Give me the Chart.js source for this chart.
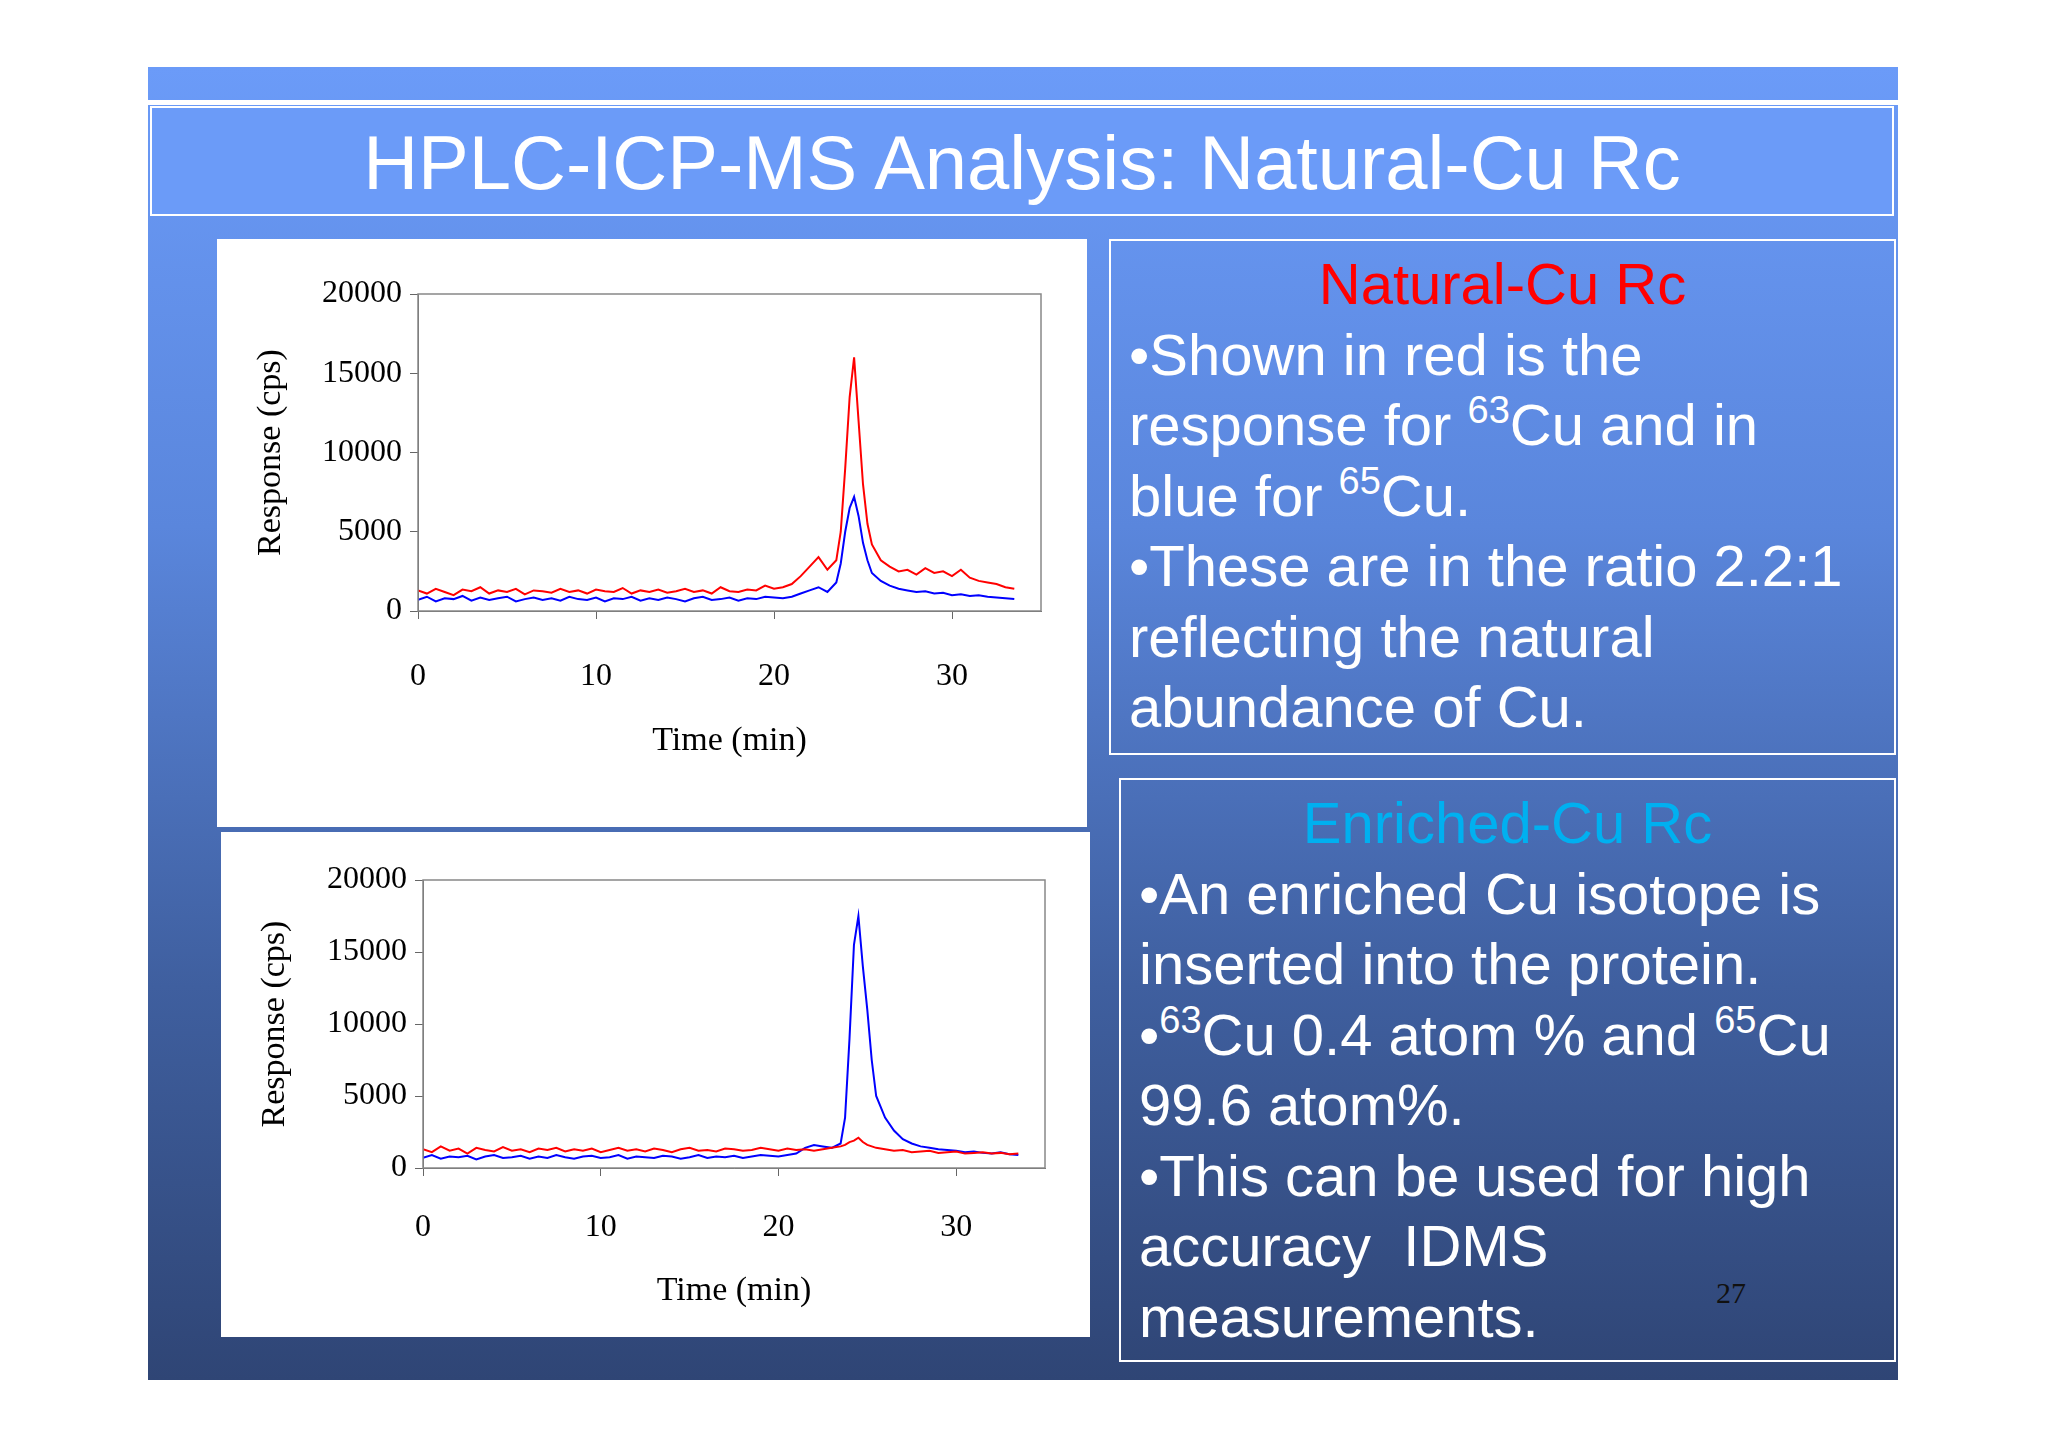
<!DOCTYPE html>
<html><head><meta charset="utf-8">
<script src="https://cdn.jsdelivr.net/npm/chart.js@4"></script>
<style>
body{margin:0;width:2048px;height:1448px;background:#fff;position:relative;overflow:hidden;font-family:"Liberation Sans",Arial,sans-serif}
#slide{position:absolute;left:148px;top:67px;width:1750px;height:1313px;background:linear-gradient(#6b9bf8 0%,#5a86dc 35%,#3f5f9f 70%,#2f4575 100%)}
#strip{position:absolute;left:148px;top:100px;width:1750px;height:5px;background:#fff}
#title{position:absolute;left:150px;top:106px;width:1744px;height:110px;border:2px solid #fff;background:#6b9bf8;color:#fff;font-size:76px;text-align:center;line-height:110px;box-sizing:border-box}
.panel{position:absolute;background:#fff}
.tb{position:absolute;border:2px solid #fff;box-sizing:border-box;color:#fff;font-size:58px;line-height:70.5px;padding:8px 18px}
.tb sup{font-size:38px;vertical-align:top;line-height:40px}
.hd{text-align:center}
</style></head><body>
<div id="slide"></div>
<div id="strip"></div>
<div id="title">HPLC-ICP-MS Analysis: Natural-Cu Rc</div>
<div class="panel" style="left:217px;top:239px;width:870px;height:588px"><canvas id="c1" width="870" height="588"></canvas></div>
<div class="panel" style="left:221px;top:832px;width:869px;height:505px"><canvas id="c2" width="869" height="505"></canvas></div>
<div class="tb" style="left:1109px;top:239px;width:787px;height:516px">
<div class="hd" style="color:#ff0000">Natural-Cu Rc</div>
•Shown in red is the<br>response for <sup>63</sup>Cu and in<br>blue for <sup>65</sup>Cu.<br>•These are in the ratio 2.2:1 reflecting the natural abundance of Cu.</div>
<div class="tb" style="left:1119px;top:778px;width:777px;height:584px">
<div class="hd" style="color:#00b0f0">Enriched-Cu Rc</div>
•An enriched Cu isotope is inserted into the protein.<br>•<sup>63</sup>Cu 0.4 atom % and <sup>65</sup>Cu 99.6 atom%.<br>•This can be used for high accuracy&nbsp; IDMS measurements.</div>
<div style="position:absolute;left:1716px;top:1276px;font-family:'Liberation Serif';font-size:30px;color:#111">27</div>
<script>
const times=[0,0.5,1,1.5,2,2.5,3,3.5,4,4.5,5,5.5,6,6.5,7,7.5,8,8.5,9,9.5,10,10.5,11,11.5,12,12.5,13,13.5,14,14.5,15,15.5,16,16.5,17,17.5,18,18.5,19,19.5,20,20.5,21,21.5,22,
22.5,23,23.5,23.75,24,24.25,24.5,24.75,25,25.25,25.5,
26,26.5,27,27.5,28,28.5,29,29.5,30,30.5,31,31.5,32,32.5,33,33.5];
const natural63=[1300,1100,1400,1200,1000,1350,1250,1500,1100,1300,1200,1400,1050,1300,1250,1150,1400,1200,1300,1100,1350,1250,1200,1450,1100,1300,1200,1350,1150,1250,1400,1200,1300,1100,1500,1250,1200,1350,1300,1600,1400,1500,1700,2200,2800,
3400,2600,3200,5000,9000,13500,16000,12000,8000,5500,4200,
3200,2800,2500,2600,2300,2700,2400,2500,2200,2600,2100,1900,1800,1700,1500,1400];
const natural65=[700,900,600,800,750,950,650,850,700,800,900,600,750,850,700,800,650,900,750,700,850,600,800,750,900,650,800,700,850,750,600,800,900,700,750,850,650,800,750,900,850,800,900,1100,1300,
1500,1200,1800,3000,5000,6500,7200,6000,4300,3200,2400,
1900,1600,1400,1300,1200,1250,1100,1150,1000,1050,950,1000,900,850,800,750];
const enriched63=[1300,1100,1500,1200,1350,1000,1400,1250,1150,1450,1200,1300,1100,1350,1250,1400,1150,1300,1200,1350,1100,1250,1400,1200,1300,1150,1350,1250,1100,1300,1400,1200,1250,1150,1350,1300,1200,1250,1400,1300,1200,1350,1250,1300,1200,
1300,1400,1500,1600,1800,1900,2100,1800,1600,1500,1400,
1300,1200,1250,1100,1150,1200,1050,1100,1150,1000,1050,1100,1000,1050,950,1000];
const enriched65=[700,900,650,800,750,850,600,800,900,700,750,850,650,800,700,900,750,650,800,850,700,750,900,650,800,750,700,850,800,650,750,900,700,800,750,850,700,800,900,850,800,900,1000,1400,1600,
1500,1400,1700,3500,9000,15500,17500,14000,11000,7500,5000,
3500,2600,2000,1700,1500,1400,1300,1250,1200,1100,1150,1050,1000,1100,950,900];
const xTicks=[0,10,20,30];
const yTicks=[0,5000,10000,15000,20000];

const frame={id:'frame',afterDraw(c){const a=c.chartArea,x=c.ctx;x.save();x.strokeStyle='#888';x.lineWidth=1.5;x.strokeRect(a.left,a.top,a.right-a.left,a.bottom-a.top);x.restore();}};
function make(id,red,blue,pad,yW,xH,tp){
 const pts=a=>a.map((v,i)=>({x:times[i],y:v}));
 const f={family:'Liberation Serif',size:32};
 const tf={family:'Liberation Serif',size:34};
 new Chart(document.getElementById(id),{type:'line',
 data:{datasets:[{data:pts(red),borderColor:'#ff0000',borderWidth:2,pointRadius:0,tension:0},{data:pts(blue),borderColor:'#0000ff',borderWidth:2,pointRadius:0,tension:0}]},
 options:{animation:false,responsive:false,plugins:{legend:{display:false},tooltip:{enabled:false}},layout:{padding:pad},
 scales:{x:{type:'linear',min:0,max:35,afterBuildTicks(s){s.ticks=xTicks.map(v=>({value:v}));},afterFit(s){s.height=xH;},
  grid:{drawOnChartArea:false,tickLength:8,color:'#666'},border:{color:'#666'},ticks:{font:f,color:'#000',padding:tp,callback:v=>String(v)},
  title:{display:true,text:'Time (min)',font:tf,color:'#000',padding:{top:10}}},
 y:{min:0,max:20000,afterBuildTicks(s){s.ticks=yTicks.map(v=>({value:v}));},afterFit(s){s.width=yW;},
  grid:{drawOnChartArea:false,tickLength:8,color:'#666'},border:{color:'#666'},ticks:{font:f,color:'#000',padding:8,callback:v=>String(v)},
  title:{display:true,text:'Response (cps)',font:tf,color:'#000',padding:{bottom:14}}}}},
 plugins:[frame]});
}
make('c1',natural63,natural65,{left:30,top:55,right:46,bottom:62},171,154,38);
make('c2',enriched63,enriched65,{left:30,top:48,right:45,bottom:22},172,147,32);
</script></body></html>
